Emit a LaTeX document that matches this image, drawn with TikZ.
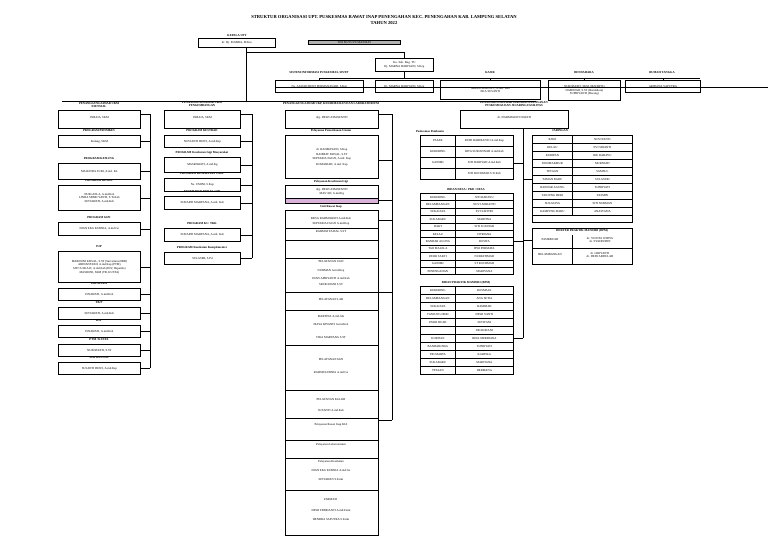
\documentclass[tikz,border=0pt]{standalone}
\usepackage{fontspec}
\setmainfont{Liberation Serif}
\begin{document}
\begin{tikzpicture}[x=1pt,y=-1pt,
  bx/.style={draw,line width=0.8pt,anchor=north west,inner sep=0.5pt,align=center,font=\fontsize{3}{3.6}\selectfont},
  lb/.style={font=\bfseries\fontsize{3}{3.6}\selectfont,inner sep=0.3pt,align=center},
  tx/.style={font=\fontsize{3}{3.6}\selectfont,inner sep=0.3pt,align=center},
  ln/.style={line width=0.8pt}]
\useasboundingbox (0,0) rectangle (768,543);
\node[lb,font=\bfseries\fontsize{4.6}{5.4}\selectfont] (title) at (384,20) {STRUKTUR ORGANISASI UPT. PUSKESMAS RAWAT INAP PENENGAHAN KEC. PENENGAHAN KAB. LAMPUNG SELATAN\\TAHUN 2022};
% top
\node[bx,minimum width=77pt,minimum height=9pt] (kep) at (198,38) {dr. Hj. ELMIRA, M.Kes};
\node[lb] (kepl) at (237,36) {KEPALA UPT};
\node[bx,fill=gray!60,minimum width=92pt,minimum height=4pt] (mutu) at (308,40) {TIM MUTU PUSKESMAS};
\node[bx,minimum width=58pt,minimum height=13pt] (ktu) at (375,58) {Ka. Sub. Bag. TU\\Hj. MARNA HARIYANI, S.Kep};
\node[lb] (sisl) at (319,73) {SISTEM INFORMASI PUSKESMAS, SP2TP};
\node[lb] (kasl) at (490,73) {KASIR};
\node[lb] (benl) at (584,73) {BENDAHARA};
\node[lb] (rtl) at (662,73) {RUMAH TANGGA};
\node[bx,minimum width=88pt,minimum height=12pt] (sis) at (275,80) {Ns. ALIFAH DEWI PERMANASARI, S.Kep};
\node[bx,minimum width=58pt,minimum height=12pt] (tu) at (375,80) {Hj. MARNA HARIYANI, S.Kep};
\node[bx,minimum width=100pt,minimum height=19pt] (kas) at (440,80) {ARIANI RAHAYU, A.md. Keb\\EKA SUSANTI};
\node[bx,minimum width=72pt,minimum height=20pt] (ben) at (548,80) {NURHAYATI, SKM (JKN/BPJS)\\HAMIDAH, S.ST (Bendahara)\\SUPRIYANTI (Barang)};
\node[bx,minimum width=75pt,minimum height=12pt] (rt) at (625,80) {ARIDANA SAPUTRA};
\coordinate (k0) at (246,47);
\draw[ln] (k0) -- (246,101);
\draw[ln] (k0|-0,52) -| (ktu.north);
\draw[ln] (ktu.south) -- ++(0,7);
\draw[ln] (319,78) -- (700,78);
\foreach \n in {sis,kas,ben,rt}{\draw[ln] (\n.north) -- (\n.north|-0,78);}
\draw[ln] (62,101) -- (536,101);
\foreach \n in {sis,tu}{\draw[ln] (\n.north west)++(0,7) -- ++(\n.east|-0,0);}
% column 1
\newcommand\cbox[7]{\node[lb] (#1l) at (#6,#3-4) {#5};\node[bx,minimum width=82pt,minimum height=#4pt] (#1) at (#2,#3) {#7};}
\node[lb] (ukml) at (99,105) {PENANGGUNGJAWAB UKM\\ESENSIAL};
\node[bx,minimum width=82pt,minimum height=18pt] (ukm) at (58,110) {ISMAIA, SKM\\\ };
\cbox{c2}{58}{135}{12}{PROGRAM PROMKES}{99}{Endang, SKM}
\cbox{c3}{58}{163}{16}{PROGRAM KESLING}{99}{MAILINDA SURI, A.md. KL}
\cbox{c4}{58}{185}{25}{PROGRAM KESGA}{99}{NURLAELA, A.md.Keb\\LINDA SEBRI YANTI, S.Tr.Keb\\SETIAWATI, A.md.Keb}
\cbox{c5}{58}{222}{13}{PROGRAM GIZI}{99}{DIAN EKA KURNIA, A.md.Gz}
\cbox{c6}{58}{251}{31}{P2P}{99}{MARDONI FAISAL, S.ST (Surveilans,DBD)\\ARDIANSYAH, A.md.Kep (PTM)\\SITI'A EKA H, A.md.Keb (HIV, Hepatitis)\\MASRONI, SKM (TB, KUSTA)}
\cbox{c7}{58}{288}{12}{IMUNISASI}{99}{ISNAWATI, A.md.Keb}
\cbox{c8}{58}{307}{12}{TB/P}{99}{SETIAWATI, A.md.Keb}
\cbox{c9}{58}{325}{12}{HIV}{99}{ISNAWATI, A.md.Keb}
\cbox{c10}{58}{344}{12}{PTM / KUSTA}{99}{NURHAYATI, S.ST}
\cbox{c11}{58}{362}{12}{SURVEILANS}{99}{SUSANTI DEWI, A.md.Kep}
\draw[ln] (ukm.north east)++(0,4) coordinate (a1) -- (150,114) -- (150,368);
\draw[ln] (ukml.north) -- (ukml.north|-0,101);
\foreach \n in {c2,c3,c4,c5,c6,c7,c8,c9,c10,c11}{\draw[ln] (\n.east) -- (150,0|-\n.east);}
% column 2
\newcommand\dbox[5]{\node[lb] (#1l) at (202,#2-4) {#4};\node[bx,minimum width=76pt,minimum height=#3pt] (#1) at (164,#2) {#5};}
\node[lb] (pgl) at (202,104) {PENANGGUNGJAWAB UKM\\PENGEMBANGAN};
\node[bx,minimum width=76pt,minimum height=18pt] (pg) at (164,110) {ISMAIA, SKM\\\ };
\dbox{d2}{135}{12}{PROGRAM KESTRAD}{NOVIANTI DEWI, A.md.Kep}
\dbox{d3}{157}{15}{PROGRAM Kesehatan Gigi Masyarakat}{MASRAWATI, A.md.Kg}
\dbox{d4}{178}{13}{PROGRAM KESEHATAN JIWA}{Ns. UMINI, S.Kep}
\dbox{d5}{196}{13}{KESEHATAN KERJA / OR}{SUHARTI MARYANA, A.md. Keb}
\dbox{d6}{228}{13}{PROGRAM K3 / TKK}{SUHARTI MARYANA, A.md. Keb}
\dbox{d7}{252}{12}{PROGRAM Kesehatan Komplementer}{SULASMI, S.Pd}
\draw[ln] (pg.north east)++(0,4) -- ++(12,0) coordinate (b1) -- ++(0,144);
\draw[ln] (pgl.north) -- (pgl.north|-0,101);
\foreach \n in {d2,d3,d4,d5,d6,d7}{\draw[ln] (\n.east) -- (252,0|-\n.east);}
% column 3
\node[lb] (ukpl) at (331,104) {PENANGGUNGJAWAB UKP, KEFARMASIAN DAN LABORATORIUM};
\node[bx,minimum width=93pt,minimum height=18pt] (ukp) at (285,110) {drg. DEWI ASMAYANTI\\\ };
\node[lb] (pul) at (331,131) {Pelayanan Pemeriksaan Umum};
\node[bx,minimum width=93pt,minimum height=43pt] (pu) at (285,135) {dr. RAHMAYANI, S.Kep\\[2pt]RAHMAT FAISAL, S.ST\\SEPTARIA FAUZI, A.md. Kep\\[2pt]KOMARIAH, A.md. Kep};
\node[lb] (pgzl) at (331,182) {Pelayanan Kesehatan Gigi};
\node[bx,minimum width=93pt,minimum height=13pt] (pgz) at (285,185) {drg. DEWI ASMAYANTI\\MAS'AH, A.md.Kg};
\node[bx,fill=violet!30,minimum width=93pt,minimum height=5pt] (vio) at (285,198) {};
\node[lb] (ril) at (331,207) {Unit Rawat Inap};
\node[bx,minimum width=93pt,minimum height=325pt] (ri) at (285,210) {};
\foreach \i/\t [count=\k] in {218/ERNA RAHMAWATI A.md.Keb,224/SEPTARIA FAUZI A.md.Kep,232/RAHMAT FAISAL S.ST,262/PELAYANAN UGD,271/NURMAN A.md.Kep,278/DIAN APRIYANTI A.md.Keb,285/SRI ROHANI S.ST,300/PELAYANAN LAB,316/MARTINA A.md.AK,324/MAYA RIYANTI A.md.Keb,338/TIKA MARYANA S.ST,360/PELAYANAN GIZI,372/RAHMI KURNIA A.md.Gz,400/PELAYANAN KIA-KB,410/SUSANTI A.md.Keb,425/Pelayanan Rawat Inap KIA/RUSMAWATI,445/Pelayanan Laboratorium,462/Pelayanan Kesehatan,470/DIAN EKA KURNIA A.md.Gz,480/SETIAWAN S.Farm,500/FARMASI / APOTEK,510/DEWI FEBRIANTI A.md.Farm,520/HENDRA SAPUTRA S.Farm}{\node[tx] (r\k) at (331,\i) {\t};}
\foreach \i in {228,240,258,292,310,345,390,418,440,458,490}{\draw[ln] (285,\i) -- (378,\i);}
\draw[ln] (ukp.north east)++(0,4) -- ++(14,0) coordinate (c1) -- ++(0,306);
\draw[ln] (ukpl.north) -- (ukpl.north|-0,101);
\foreach \y in {160,200,220,292,420}{\draw[ln] (378,\y) -- (392,\y);}
% column 4
\node[lb] (jrl) at (514,104) {PENANGGUNGJAWAB JARINGAN PELAYANAN\\PUSKESMAS DAN JEJARING FASILITAS};
\node[bx,minimum width=108pt,minimum height=18pt] (jr) at (460,110) {dr. DARMAWATI HAYATI\\\ };
\draw[ln] (jrl.north) -- (jrl.north|-0,101);
\coordinate (j0) at (523,128);
\draw[ln] (j0) -- (523,338);
\newcommand\tab[6]{\node[lb] (#1l) at (#2+46,#3-3) {#4};
 \foreach \a/\b [count=\k] in {#6}{\node[bx,minimum width=35pt,minimum height=#5pt,align=left] (#1a\k) at (#2,#3+#5*\k-#5) {\a};\node[bx,minimum width=58pt,minimum height=#5pt] (#1b\k) at (#2+35,#3+#5*\k-#5) {\b};}}
\node[lb] (pstl) at (430,131) {Puskesmas Pembantu};
\foreach \a/\b [count=\k] in {PASAR/RUDI HARDIANTO A.md.Kep,KEKERING/RITA SURIANNAH A.md.Keb,GANDRI/SITI BARIYAH A.md.Keb,\ /SITI ROCHMAH S.Tr.Keb}{\node[bx,minimum width=35pt,minimum height=11pt,align=left] (pa\k) at (420,135+11*\k-11) {\a};\node[bx,minimum width=58pt,minimum height=11pt] (pb\k) at (455,135+11*\k-11) {\b};}
\tab{bd}{420}{193}{BIDAN DESA / PKD / DESA}{7.4}{KEKERING/SITI RAHAYU,BELAMBANGAN/NOVI ASRIANTI,SUKAJAYA/EVI SAFITRI,SUKABARU/MARTINA,RAWI/SITI SOLIHAH,KELAU/FITRIANA,BANDAR AGUNG/ROSITA,TAJI MALELA/DWI PERMATA,PASIR SAKTI/NURFATIMAH,GANDRI/ST ROCHMAH,PENENGAHAN/MARIYANA}
\tab{bp}{420}{286}{BIDAN PRAKTIK MANDIRI (BPM)}{8}{KEKERING/ROSMALE,BELAMBANGAN/ANA SETIA,SUKAJAYA/HAMIDAH,TANJUNG HERI/DEWI YANTI,PASIR BUAH/SETIYANI,\ /SRI ROHANI,KURIPAN/RINA MERDIANA,BANDARJAWA/SUPRIYATI,TRI MARTA/KARTIKA,SUKABARU/MARTIANA,TETAAN/HERMANA}
\draw[ln] (pb3.east) -- (523,0|-pb3.east);
\draw[ln] (bdb7.east) -- (523,0|-bdb7.east);
\draw[ln] (bpb7.east) -- (523,0|-bpb7.east);
% column 5
\node[lb] (jgl) at (560,131) {JARINGAN};
\foreach \a/\b [count=\k] in {RAWI/NOVIYANTI,KELAU/EVI SRIANTI,KURIPAN/IKE RAHAYU,SIDOMAKMUR/MURNIATI,TETAAN/SAMSUL,TAMAN BARU/SULASTRI,BANDAR AGUNG/SUPRIYATI,TANJUNG HERI/YASMIN,SUKAJAYA/SITI NURMAN,KAMPUNG BARU/ANASTASIA}{\node[bx,minimum width=40pt,minimum height=8pt,align=left] (ja\k) at (532,135+8*\k-8) {\a};\node[bx,minimum width=60pt,minimum height=8pt] (jb\k) at (572,135+8*\k-8) {\b};}
\node[bx,minimum width=100pt,minimum height=7pt] (jx) at (532,215) {};
\node[bx,minimum width=100pt,minimum height=36pt] (dp) at (532,228) {};
\node[lb] (dpl) at (582,231) {DOKTER PRAKTIK MANDIRI (DPM)};
\node[tx] (dp1) at (550,240) {PASIRBUAH};
\node[tx] (dp2) at (550,255) {BELAMBANGAN};
\node[tx] (dp3) at (600,240) {dr. YUNITA WIDYA\\dr. SYAFRUDIN};
\node[tx] (dp4) at (600,255) {dr. LIRIYANTI\\dr. DEDI ABDULAH};
\draw[ln] (572,235) -- (572,264);\draw[ln] (532,248) -- (632,248);
\draw[ln] (523,0|-ja6.west) -- (ja6.west);
\draw[ln] (523,0|-dp1) -- (dp.west|-dp1);
\end{tikzpicture}
\end{document}
